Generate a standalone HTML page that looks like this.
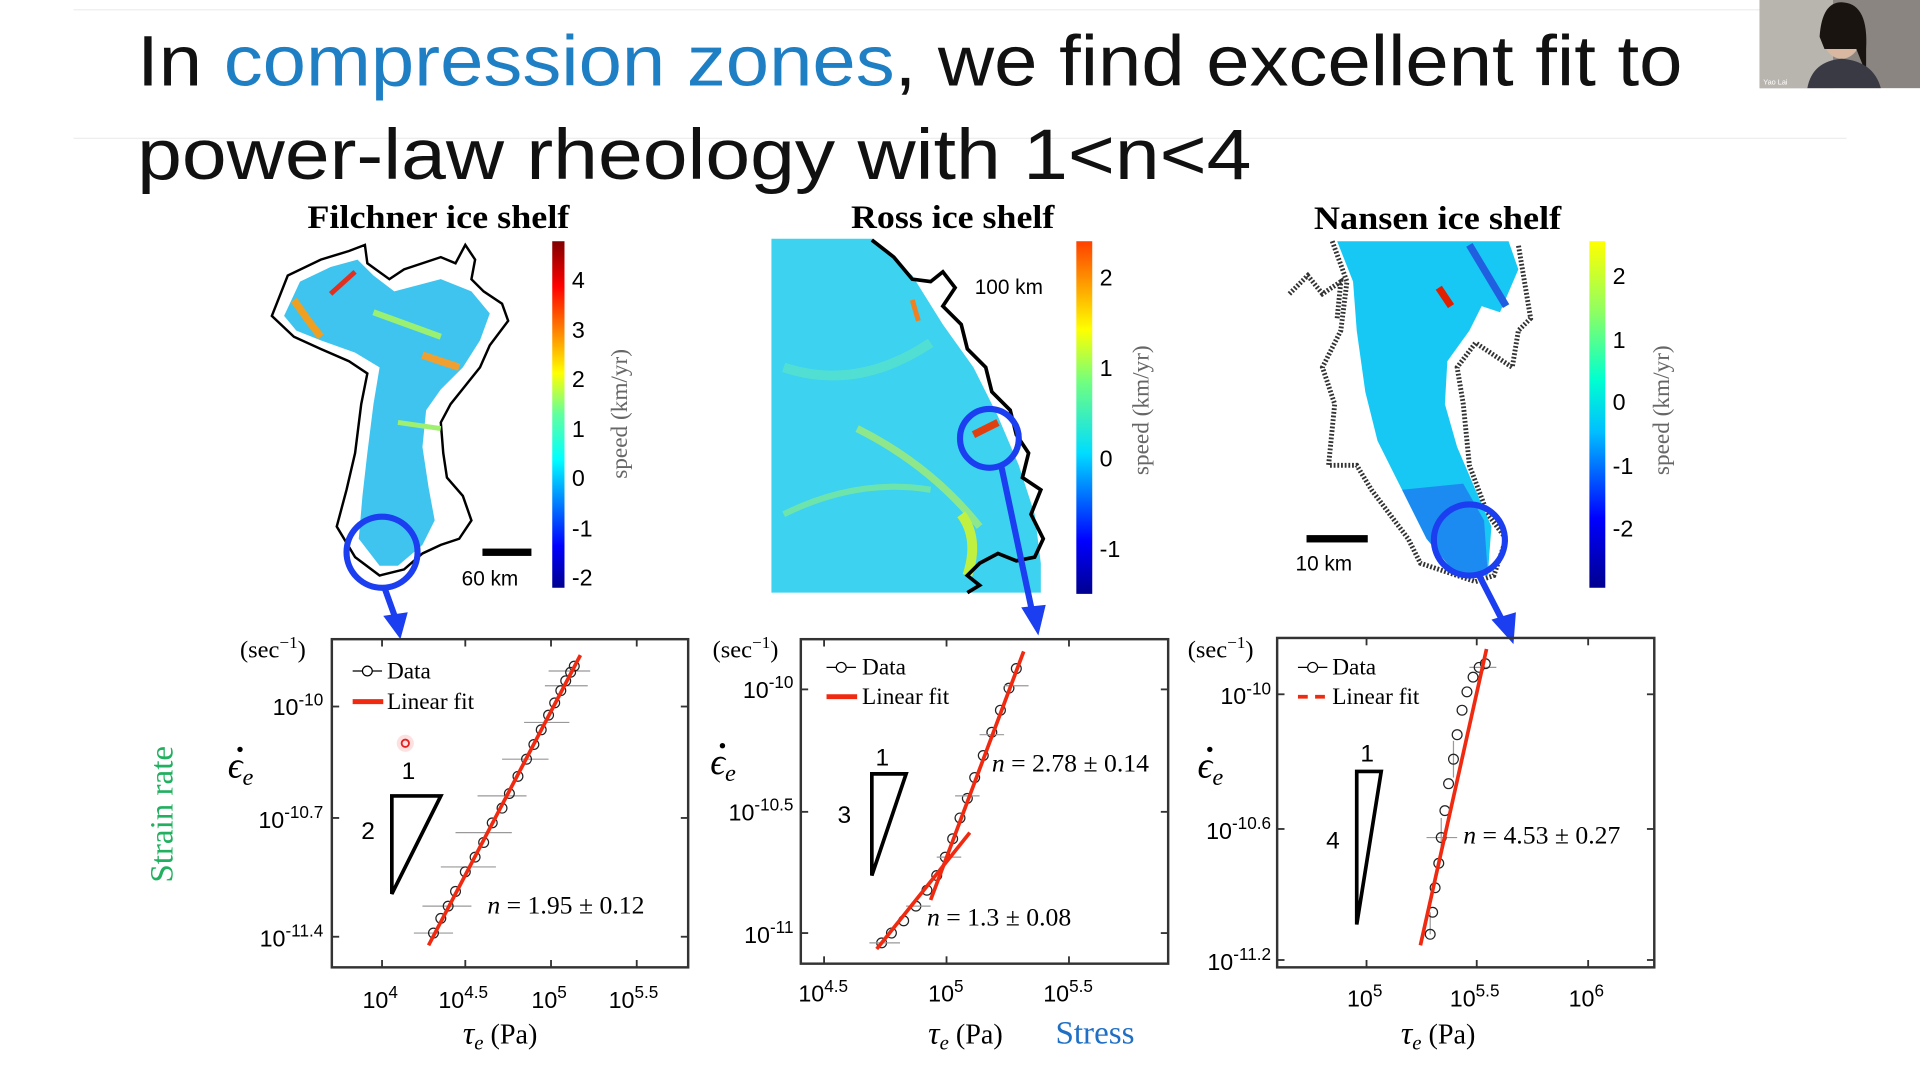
<!DOCTYPE html>
<html><head><meta charset="utf-8"><style>
html,body{margin:0;padding:0;background:#fff;width:1920px;height:1080px;overflow:hidden}
svg{display:block}
.ser{font-family:"Liberation Serif",serif}
.san{font-family:"Liberation Sans",sans-serif}
</style></head><body>
<svg width="1920" height="1080" viewBox="0 0 1568 882" preserveAspectRatio="none" xmlns="http://www.w3.org/2000/svg">
<defs>
<linearGradient id="jet1" x1="0" y1="1" x2="0" y2="0">
<stop offset="0" stop-color="#00008f"/><stop offset="0.12" stop-color="#0000ff"/><stop offset="0.37" stop-color="#00ffff"/><stop offset="0.5" stop-color="#60ff9f"/><stop offset="0.62" stop-color="#ffff00"/><stop offset="0.87" stop-color="#ff0000"/><stop offset="1" stop-color="#800000"/></linearGradient>
<linearGradient id="jet2" x1="0" y1="1" x2="0" y2="0">
<stop offset="0" stop-color="#00008f"/><stop offset="0.15" stop-color="#0000ff"/><stop offset="0.4" stop-color="#00ddff"/><stop offset="0.6" stop-color="#70ff80"/><stop offset="0.75" stop-color="#ffff00"/><stop offset="1" stop-color="#ff4000"/></linearGradient>
<linearGradient id="par" x1="0" y1="1" x2="0" y2="0">
<stop offset="0" stop-color="#00008f"/><stop offset="0.2" stop-color="#0000ff"/><stop offset="0.45" stop-color="#00bfff"/><stop offset="0.6" stop-color="#00ffd0"/><stop offset="0.8" stop-color="#90ff60"/><stop offset="1" stop-color="#ffff00"/></linearGradient>
</defs>
<line x1="60" y1="8" x2="1508" y2="8" stroke="#eee"/>
<line x1="60" y1="113" x2="1508" y2="113" stroke="#eee"/>
<text x="112" y="70" class="san" font-size="58" fill="#111" textLength="1262" lengthAdjust="spacingAndGlyphs">In <tspan fill="#1f7fc4">compression zones</tspan>, we find excellent fit to</text>
<text x="112" y="146" class="san" font-size="58" fill="#111" textLength="910" lengthAdjust="spacingAndGlyphs">power-law rheology with  1&lt;n&lt;4</text>
<rect x="1437" y="0" width="131" height="72" fill="#8a8580"/>
<rect x="1437" y="0" width="60" height="72" fill="#b8b4ae"/>
<ellipse cx="1504" cy="28" rx="16" ry="20" fill="#d8b8a0"/><path d="M1486 30 Q1488 0 1506 2 Q1526 4 1524 40 L1524 60 L1516 40 L1490 40 Z" fill="#1a1410"/>
<path d="M1476 72 Q1480 50 1504 48 Q1530 50 1536 72Z" fill="#3a3a44"/>
<text x="1440" y="69" class="san" font-size="6" fill="#fff">Yao Lai</text>

<g class="ser" font-weight="bold" font-size="27" fill="#000">
<text x="251" y="186" textLength="214" lengthAdjust="spacingAndGlyphs">Filchner ice shelf</text><text x="695" y="186" textLength="166" lengthAdjust="spacingAndGlyphs">Ross ice shelf</text><text x="1073" y="187" textLength="202" lengthAdjust="spacingAndGlyphs">Nansen ice shelf</text></g>

<!-- Filchner map -->
<path d="M222 258 L235 225 L262 212 L285 205 L298 200 L300 215 L318 228 L330 220 L360 210 L372 215 L380 200 L388 212 L385 228 L395 238 L410 248 L415 262 L400 282 L392 300 L380 315 L368 330 L360 345 L362 370 L365 390 L378 405 L385 425 L375 440 L360 445 L345 452 L330 465 L310 470 L290 455 L275 430 L283 400 L290 370 L295 330 L300 305 L285 295 L262 285 L240 275 Z" fill="#fff" stroke="#000" stroke-width="2"/>
<path d="M232 258 L245 230 L270 218 L292 212 L305 225 L322 238 L360 228 L385 238 L400 256 L392 278 L378 300 L360 318 L348 335 L345 365 L350 398 L355 425 L345 445 L325 462 L310 462 L293 440 L296 405 L300 370 L305 330 L310 300 L290 288 L262 278 L242 270 Z" fill="#3fc4f0"/>
<path d="M240 245 L252 262 L262 275" stroke="#f0a020" stroke-width="6" fill="none"/>
<path d="M270 240 L290 222" stroke="#e03020" stroke-width="4"/>
<path d="M345 290 L375 300" stroke="#f0a030" stroke-width="6"/>
<path d="M305 255 L360 275" stroke="#9af070" stroke-width="5"/>
<path d="M325 345 L360 350" stroke="#a0f070" stroke-width="4"/>
<rect x="451" y="197" width="10" height="283" fill="url(#jet1)"/>
<g class="san" font-size="19" fill="#000"><text x="467" y="235">4</text><text x="467" y="276">3</text><text x="467" y="316">2</text><text x="467" y="357">1</text><text x="467" y="397">0</text><text x="467" y="438">-1</text><text x="467" y="478">-2</text>
<text x="377" y="478" font-size="17">60 km</text></g>
<text transform="translate(512 338) rotate(-90)" class="ser" font-size="19" fill="#666" text-anchor="middle">speed (km/yr)</text>
<rect x="394" y="448" width="40" height="6" fill="#000"/>
<circle cx="312" cy="451" r="29" fill="none" stroke="#1a3ef0" stroke-width="5"/>
<line x1="314" y1="480" x2="323" y2="505" stroke="#1a3ef0" stroke-width="5"/><path d="M313 503 L333 500 L327 522Z" fill="#1a3ef0"/>

<!-- Ross -->
<path d="M630 195 L712 195 L745 225 L770 265 L795 300 L815 340 L832 380 L845 420 L850 460 L850 484 L630 484Z" fill="#3cd2f0"/>
<path d="M640 300 Q700 320 760 280" stroke="#60e8c0" stroke-width="8" fill="none" opacity="0.6"/>
<path d="M700 350 Q760 380 800 430" stroke="#b0f060" stroke-width="6" fill="none" opacity="0.7"/>
<path d="M640 420 Q700 390 760 400" stroke="#90f080" stroke-width="5" fill="none" opacity="0.6"/>
<path d="M785 420 Q800 440 790 470" stroke="#c0f040" stroke-width="8" fill="none"/>
<path d="M745 245 L750 262" stroke="#f08020" stroke-width="4"/>
<path d="M795 355 L815 345" stroke="#e04010" stroke-width="6"/>
<path d="M712 196 L730 210 L745 228 L760 230 L770 222 L780 235 L770 250 L785 265 L790 285 L805 300 L810 320 L825 335 L830 355 L840 370 L835 390 L850 400 L842 420 L852 440 L845 455 L830 458 L815 452 L800 460 L790 470 L800 478 L790 484" fill="none" stroke="#000" stroke-width="3"/>
<rect x="879" y="197" width="13" height="288" fill="url(#jet2)"/>
<g class="san" font-size="19" fill="#000"><text x="898" y="233">2</text><text x="898" y="307">1</text><text x="898" y="381">0</text><text x="898" y="455">-1</text><text x="796" y="240" font-size="17">100 km</text></g>
<text transform="translate(938 335) rotate(-90)" class="ser" font-size="19" fill="#666" text-anchor="middle">speed (km/yr)</text>
<circle cx="808" cy="358" r="24" fill="none" stroke="#1a3ef0" stroke-width="5"/>
<line x1="818" y1="382" x2="843" y2="500" stroke="#1a3ef0" stroke-width="5"/><path d="M834 496 L854 494 L848 519Z" fill="#1a3ef0"/>

<!-- Nansen -->
<path d="M1088 197 L1100 230 L1095 270 L1080 300 L1090 330 L1085 380 L1108 380 L1120 400 L1150 440 L1160 460 L1205 475 L1220 470 L1230 440 L1215 420 L1200 380 L1195 330 L1190 300 L1205 280 L1235 300 L1240 270 L1250 260 L1240 200" fill="none" stroke="#333" stroke-width="4" stroke-dasharray="1.5 1.5"/>
<path d="M1053 240 L1068 225 L1080 240 L1095 230 L1092 260" fill="none" stroke="#333" stroke-width="4" stroke-dasharray="1.5 1.5"/>
<path d="M1092 197 L1232 197 L1240 220 L1225 255 L1210 250 L1200 270 L1182 295 L1180 330 L1190 365 L1205 400 L1218 430 L1215 470 L1190 470 L1165 440 L1145 400 L1125 360 L1115 320 L1108 270 L1105 230 Z" fill="#18c8f4"/>
<path d="M1145 400 L1165 440 L1190 470 L1215 468 L1212 425 L1195 395Z" fill="#1e7cf0" opacity="0.8"/>
<path d="M1175 235 L1185 250" stroke="#e02000" stroke-width="6"/>
<path d="M1200 200 L1230 250" stroke="#2060e0" stroke-width="6"/>
<rect x="1298" y="197" width="13" height="283" fill="url(#par)"/>
<g class="san" font-size="19" fill="#000"><text x="1317" y="232">2</text><text x="1317" y="284">1</text><text x="1317" y="335">0</text><text x="1317" y="387">-1</text><text x="1317" y="438">-2</text><text x="1058" y="466" font-size="17">10 km</text></g>
<text transform="translate(1363 335) rotate(-90)" class="ser" font-size="19" fill="#666" text-anchor="middle">speed (km/yr)</text>
<rect x="1067" y="437" width="50" height="6" fill="#000"/>
<circle cx="1200" cy="441" r="29" fill="none" stroke="#1a3ef0" stroke-width="5"/>
<line x1="1208" y1="470" x2="1226" y2="505" stroke="#1a3ef0" stroke-width="5"/><path d="M1218 506 L1238 500 L1236 526Z" fill="#1a3ef0"/>

<text transform="translate(141 665) rotate(-90)" class="ser" font-size="27" fill="#22b060" text-anchor="middle">Strain rate</text>
<text x="862" y="852" class="ser" font-size="27" fill="#1f6fc4">Stress</text>

<!-- Plot 1 -->
<g class="ser" fill="#000">
<rect x="271" y="522" width="291" height="268" fill="none" stroke="#333" stroke-width="2"/>
<g stroke="#333" stroke-width="1.5"><line x1="271" y1="577" x2="277" y2="577"/><line x1="271" y1="668" x2="277" y2="668"/><line x1="271" y1="765" x2="277" y2="765"/><line x1="562" y1="577" x2="556" y2="577"/><line x1="562" y1="668" x2="556" y2="668"/><line x1="562" y1="765" x2="556" y2="765"/>
<line x1="312" y1="790" x2="312" y2="784"/><line x1="380" y1="790" x2="380" y2="784"/><line x1="450" y1="790" x2="450" y2="784"/><line x1="520" y1="790" x2="520" y2="784"/><line x1="312" y1="522" x2="312" y2="528"/><line x1="380" y1="522" x2="380" y2="528"/><line x1="450" y1="522" x2="450" y2="528"/><line x1="520" y1="522" x2="520" y2="528"/></g>
<g class="san" font-size="19" text-anchor="end"><text x="264" y="584">10<tspan dy="-8" font-size="14">-10</tspan></text><text x="264" y="676">10<tspan dy="-8" font-size="14">-10.7</tspan></text><text x="264" y="773">10<tspan dy="-8" font-size="14">-11.4</tspan></text></g>
<g class="san" font-size="19"><text x="296" y="823">10<tspan dy="-8" font-size="14">4</tspan></text><text x="358" y="823">10<tspan dy="-8" font-size="14">4.5</tspan></text><text x="434" y="823">10<tspan dy="-8" font-size="14">5</tspan></text><text x="497" y="823">10<tspan dy="-8" font-size="14">5.5</tspan></text></g>
<text x="378" y="852" font-size="23"><tspan font-style="italic" font-size="26">τ</tspan><tspan font-style="italic" font-size="17" dy="5">e</tspan><tspan dy="-5">  (Pa)</tspan></text>
<text x="196" y="537" font-size="20">(sec<tspan dy="-8" font-size="14">−1</tspan><tspan dy="8">)</tspan></text>
<text x="186" y="635" font-size="30" font-style="italic">ϵ<tspan font-size="20" dy="6">e</tspan></text><circle cx="196" cy="612" r="2.2" fill="#000"/>
<line x1="288" y1="548" x2="312" y2="548" stroke="#000"/><circle cx="300" cy="548" r="4" fill="#fff" stroke="#000"/>
<text x="316" y="554" font-size="19">Data</text>
<line x1="288" y1="573" x2="313" y2="573" stroke="#f02a10" stroke-width="4"/><text x="316" y="579" font-size="19">Linear fit</text>
<circle cx="331" cy="607" r="3" fill="none" stroke="#e02020" stroke-width="1.5"/><circle cx="331" cy="607" r="7" fill="#f03030" opacity="0.15"/>
<path d="M320 650 L360 650 L320 730 Z" fill="none" stroke="#000" stroke-width="3"/>
<text x="328" y="636" class="san" font-size="20">1</text><text x="295" y="685" class="san" font-size="20">2</text>
<text x="398" y="746" font-size="21"><tspan font-style="italic">n</tspan> = 1.95 ± 0.12</text>
<g stroke="#999" stroke-width="1"><line x1="338" y1="762" x2="370" y2="762"/><line x1="345" y1="740" x2="385" y2="740"/><line x1="360" y1="708" x2="405" y2="708"/><line x1="372" y1="680" x2="418" y2="680"/><line x1="390" y1="650" x2="430" y2="650"/><line x1="410" y1="620" x2="448" y2="620"/><line x1="428" y1="590" x2="465" y2="590"/><line x1="445" y1="560" x2="480" y2="560"/><line x1="448" y1="548" x2="482" y2="548"/></g>
<g fill="none" stroke="#222" stroke-width="1"><circle cx="354" cy="762" r="4"/><circle cx="360" cy="750" r="4"/><circle cx="366" cy="740" r="4"/><circle cx="372" cy="728" r="4"/><circle cx="380" cy="712" r="4"/><circle cx="388" cy="700" r="4"/><circle cx="395" cy="688" r="4"/><circle cx="402" cy="672" r="4"/><circle cx="410" cy="660" r="4"/><circle cx="416" cy="648" r="4"/><circle cx="423" cy="634" r="4"/><circle cx="430" cy="620" r="4"/><circle cx="436" cy="608" r="4"/><circle cx="442" cy="596" r="4"/><circle cx="448" cy="584" r="4"/><circle cx="453" cy="574" r="4"/><circle cx="458" cy="564" r="4"/><circle cx="462" cy="556" r="4"/><circle cx="466" cy="549" r="4"/><circle cx="469" cy="544" r="4"/></g>
<line x1="350" y1="772" x2="474" y2="535" stroke="#f02a10" stroke-width="3"/>
</g>

<!-- Plot 2 -->
<g class="ser" fill="#000">
<rect x="654" y="522" width="300" height="265" fill="none" stroke="#333" stroke-width="2"/>
<g stroke="#333" stroke-width="1.5"><line x1="654" y1="563" x2="660" y2="563"/><line x1="654" y1="663" x2="660" y2="663"/><line x1="654" y1="762" x2="660" y2="762"/><line x1="954" y1="563" x2="948" y2="563"/><line x1="954" y1="663" x2="948" y2="663"/><line x1="954" y1="762" x2="948" y2="762"/>
<line x1="673" y1="787" x2="673" y2="781"/><line x1="773" y1="787" x2="773" y2="781"/><line x1="873" y1="787" x2="873" y2="781"/><line x1="673" y1="522" x2="673" y2="528"/><line x1="773" y1="522" x2="773" y2="528"/><line x1="873" y1="522" x2="873" y2="528"/></g>
<g class="san" font-size="19" text-anchor="end"><text x="648" y="570">10<tspan dy="-8" font-size="14">-10</tspan></text><text x="648" y="670">10<tspan dy="-8" font-size="14">-10.5</tspan></text><text x="648" y="770">10<tspan dy="-8" font-size="14">-11</tspan></text></g>
<g class="san" font-size="19"><text x="652" y="818">10<tspan dy="-8" font-size="14">4.5</tspan></text><text x="758" y="818">10<tspan dy="-8" font-size="14">5</tspan></text><text x="852" y="818">10<tspan dy="-8" font-size="14">5.5</tspan></text></g>
<text x="758" y="852" font-size="23"><tspan font-style="italic" font-size="26">τ</tspan><tspan font-style="italic" font-size="17" dy="5">e</tspan><tspan dy="-5">  (Pa)</tspan></text>
<text x="582" y="537" font-size="20">(sec<tspan dy="-8" font-size="14">−1</tspan><tspan dy="8">)</tspan></text>
<text x="580" y="632" font-size="30" font-style="italic">ϵ<tspan font-size="20" dy="6">e</tspan></text><circle cx="590" cy="609" r="2.2" fill="#000"/>
<line x1="675" y1="545" x2="699" y2="545" stroke="#000"/><circle cx="687" cy="545" r="4" fill="#fff" stroke="#000"/>
<text x="704" y="551" font-size="19">Data</text>
<line x1="675" y1="569" x2="700" y2="569" stroke="#f02a10" stroke-width="4"/><text x="704" y="575" font-size="19">Linear fit</text>
<path d="M712 632 L740 632 L712 715 Z" fill="none" stroke="#000" stroke-width="3"/>
<text x="715" y="625" class="san" font-size="20">1</text><text x="684" y="672" class="san" font-size="20">3</text>
<text x="810" y="630" font-size="21"><tspan font-style="italic">n</tspan> = 2.78 ± 0.14</text>
<text x="757" y="756" font-size="21"><tspan font-style="italic">n</tspan> = 1.3 ± 0.08</text>
<g fill="none" stroke="#222" stroke-width="1"><circle cx="720" cy="770" r="4"/><circle cx="728" cy="762" r="4"/><circle cx="738" cy="752" r="4"/><circle cx="748" cy="740" r="4"/><circle cx="757" cy="727" r="4"/><circle cx="765" cy="715" r="4"/><circle cx="772" cy="700" r="4"/><circle cx="778" cy="685" r="4"/><circle cx="784" cy="668" r="4"/><circle cx="790" cy="652" r="4"/><circle cx="796" cy="635" r="4"/><circle cx="803" cy="617" r="4"/><circle cx="810" cy="598" r="4"/><circle cx="817" cy="580" r="4"/><circle cx="824" cy="562" r="4"/><circle cx="830" cy="546" r="4"/></g>
<g stroke="#999" stroke-width="1"><line x1="710" y1="770" x2="735" y2="770"/><line x1="740" y1="740" x2="760" y2="740"/><line x1="765" y1="700" x2="785" y2="700"/><line x1="780" y1="650" x2="800" y2="650"/><line x1="800" y1="600" x2="820" y2="600"/><line x1="820" y1="560" x2="840" y2="560"/></g>
<line x1="716" y1="775" x2="792" y2="680" stroke="#f02a10" stroke-width="3"/>
<line x1="760" y1="735" x2="836" y2="532" stroke="#f02a10" stroke-width="3"/>
</g>

<!-- Plot 3 -->
<g class="ser" fill="#000">
<rect x="1043" y="521" width="308" height="269" fill="none" stroke="#333" stroke-width="2"/>
<g stroke="#333" stroke-width="1.5"><line x1="1043" y1="567" x2="1049" y2="567"/><line x1="1043" y1="677" x2="1049" y2="677"/><line x1="1043" y1="784" x2="1049" y2="784"/><line x1="1351" y1="567" x2="1345" y2="567"/><line x1="1351" y1="677" x2="1345" y2="677"/><line x1="1351" y1="784" x2="1345" y2="784"/>
<line x1="1116" y1="790" x2="1116" y2="784"/><line x1="1206" y1="790" x2="1206" y2="784"/><line x1="1297" y1="790" x2="1297" y2="784"/><line x1="1116" y1="521" x2="1116" y2="527"/><line x1="1206" y1="521" x2="1206" y2="527"/><line x1="1297" y1="521" x2="1297" y2="527"/></g>
<g class="san" font-size="19" text-anchor="end"><text x="1038" y="575">10<tspan dy="-8" font-size="14">-10</tspan></text><text x="1038" y="685">10<tspan dy="-8" font-size="14">-10.6</tspan></text><text x="1038" y="792">10<tspan dy="-8" font-size="14">-11.2</tspan></text></g>
<g class="san" font-size="19"><text x="1100" y="822">10<tspan dy="-8" font-size="14">5</tspan></text><text x="1184" y="822">10<tspan dy="-8" font-size="14">5.5</tspan></text><text x="1281" y="822">10<tspan dy="-8" font-size="14">6</tspan></text></g>
<text x="1144" y="852" font-size="23"><tspan font-style="italic" font-size="26">τ</tspan><tspan font-style="italic" font-size="17" dy="5">e</tspan><tspan dy="-5">  (Pa)</tspan></text>
<text x="970" y="537" font-size="20">(sec<tspan dy="-8" font-size="14">−1</tspan><tspan dy="8">)</tspan></text>
<text x="978" y="635" font-size="30" font-style="italic">ϵ<tspan font-size="20" dy="6">e</tspan></text><circle cx="988" cy="612" r="2.2" fill="#000"/>
<line x1="1060" y1="545" x2="1084" y2="545" stroke="#000"/><circle cx="1072" cy="545" r="4" fill="#fff" stroke="#000"/>
<text x="1088" y="551" font-size="19">Data</text>
<line x1="1060" y1="569" x2="1085" y2="569" stroke="#f02a10" stroke-width="3" stroke-dasharray="8 6"/><text x="1088" y="575" font-size="19">Linear fit</text>
<path d="M1108 630 L1128 630 L1108 755 Z" fill="none" stroke="#000" stroke-width="3"/>
<text x="1111" y="622" class="san" font-size="20">1</text><text x="1083" y="693" class="san" font-size="20">4</text>
<text x="1195" y="689" font-size="21"><tspan font-style="italic">n</tspan> = 4.53 ± 0.27</text>
<g stroke="#999" stroke-width="1"><line x1="1168" y1="763" x2="1168" y2="745"/><line x1="1177" y1="700" x2="1177" y2="668"/><line x1="1187" y1="635" x2="1187" y2="605"/><line x1="1165" y1="684" x2="1190" y2="684"/><line x1="1200" y1="545" x2="1222" y2="545"/></g>
<g fill="none" stroke="#222" stroke-width="1"><circle cx="1168" cy="763" r="4"/><circle cx="1170" cy="745" r="4"/><circle cx="1172" cy="725" r="4"/><circle cx="1175" cy="705" r="4"/><circle cx="1177" cy="684" r="4"/><circle cx="1180" cy="662" r="4"/><circle cx="1183" cy="640" r="4"/><circle cx="1187" cy="620" r="4"/><circle cx="1190" cy="600" r="4"/><circle cx="1194" cy="580" r="4"/><circle cx="1198" cy="565" r="4"/><circle cx="1203" cy="553" r="4"/><circle cx="1208" cy="545" r="4"/><circle cx="1213" cy="542" r="4"/></g>
<line x1="1160" y1="772" x2="1214" y2="530" stroke="#f02a10" stroke-width="3"/>
</g>
</svg>
</body></html>
